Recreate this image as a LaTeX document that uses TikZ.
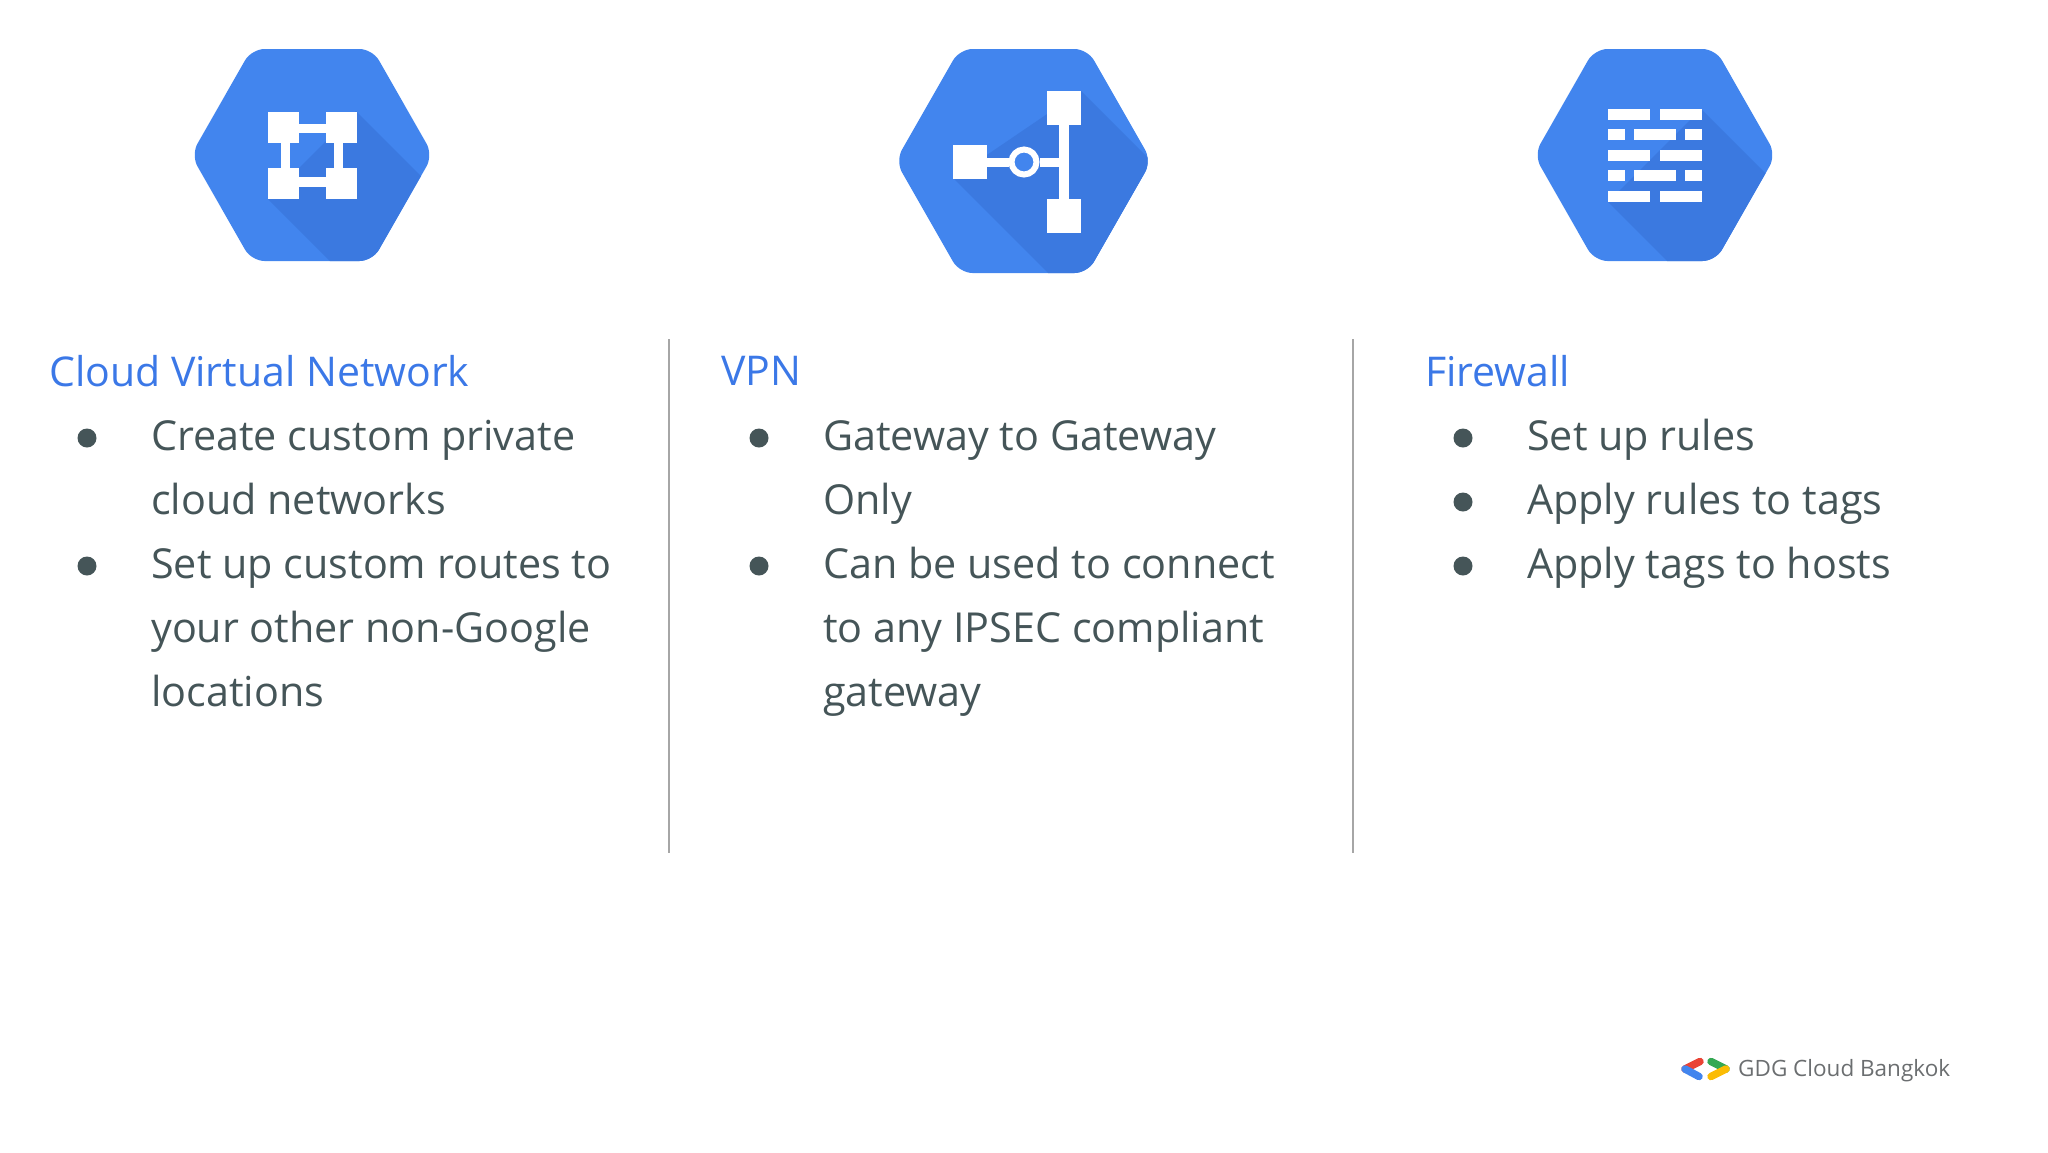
\documentclass[tikz,border=0pt]{standalone}
\usepackage{fontspec}
\setmainfont{Open Sans}
\usetikzlibrary{positioning,calc}
\definecolor{hexblue}{HTML}{4285EE}
\definecolor{hexshade}{HTML}{3B79E0}
\definecolor{titleblue}{HTML}{3B78E7}
\definecolor{bodygray}{HTML}{455558}
\definecolor{footgray}{HTML}{6B6E70}
\definecolor{rulegray}{HTML}{A6A6A6}
\definecolor{logored}{HTML}{EA4335}
\definecolor{logogreen}{HTML}{34A853}
\definecolor{logoyellow}{HTML}{FBBC04}

% hexagon badge: centre x, centre y, half width, half height, then shade corners
\newcommand{\hexbadge}[6]{
    \begin{scope}
        \clip[rounded corners=13pt] (#1-#3,#2) -- (#1-#3/2,#2-#4) -- (#1+#3/2,#2-#4)
            -- (#1+#3,#2) -- (#1+#3/2,#2+#4) -- (#1-#3/2,#2+#4) -- cycle;
        \fill[hexblue] (#1-#3-5,#2-#4-5) rectangle (#1+#3+5,#2+#4+5);
        \fill[hexshade] #5 -- ++(200,200) -- ($#6+(200,200)$) -- #6 -- cycle;
    \end{scope}
}

\begin{document}
\begin{tikzpicture}[
    x=1pt, y=-1pt,
    % Node styles
    title/.style={anchor=west, inner sep=0pt, text=titleblue,
                  font=\fontsize{41}{64}\selectfont},
    itemtext/.style={anchor=north west, inner sep=0pt, text=bodygray, align=left,
                     font=\fontsize{41.3}{64}\selectfont},
    dot/.style={circle, fill=bodygray, inner sep=0pt, minimum size=19pt},
    brick/.style={rectangle, fill=white, inner sep=0pt},
    footer/.style={anchor=west, inner sep=0pt, text=footgray,
                   font=\fontsize{22.5}{28}\selectfont},
    divider/.style={line width=2pt, rulegray},
    logoline/.style={line width=7.5pt, line cap=round}
]

\useasboundingbox (0,0) rectangle (2048,1152);

% 1. Cloud Virtual Network badge
\hexbadge{312}{155}{121}{106}{(356,111)}{(268,199)}
\node[brick, minimum size=31pt] (netTL) at (283.8,127.2) {};
\node[brick, minimum size=31pt] (netTR) at (341,127.2) {};
\node[brick, minimum size=31pt] (netBL) at (283.8,183.8) {};
\node[brick, minimum size=31pt] (netBR) at (341,183.8) {};
\draw[white, line width=9.5pt] ([yshift=-1.5pt]netTL.center) -- ([yshift=-1.5pt]netTR.center);
\draw[white, line width=9.5pt] ([xshift=-2.3pt]netTR.center) -- ([xshift=-2.3pt]netBR.center);
\draw[white, line width=9.5pt] ([yshift=1.6pt]netBR.center) -- ([yshift=1.6pt]netBL.center);
\draw[white, line width=9.5pt] ([xshift=1.9pt]netBL.center) -- ([xshift=1.9pt]netTL.center);

% 2. VPN badge
\hexbadge{1023.5}{161}{128}{112}{(1081,91)}{(953,178)}
\node[brick, minimum size=34pt] (vpnLeft) at (970,162) {};
\node[brick, minimum size=34pt] (vpnTop) at (1064,108) {};
\node[brick, minimum size=34pt] (vpnBottom) at (1064,216) {};
\node[circle, draw=white, line width=6pt, fill=hexblue, inner sep=0pt,
      minimum size=25pt] (vpnHub) at (1024,162) {};
\coordinate (vpnJoint) at (1064,162);
\draw[white, line width=9pt] (vpnLeft) -- (vpnHub);
\draw[white, line width=9pt] (vpnHub) -- (vpnJoint);
\draw[white, line width=10pt] (vpnTop) -- (vpnBottom);

% 3. Firewall badge
\hexbadge{1655}{155}{121}{106}{(1701,109)}{(1608,202)}
\foreach \row/\yy in {a/114.5, c/155.5, e/196.5} {
    \node[brick, minimum width=42pt, minimum height=11pt] (wall\row L) at (1629,\yy) {};
    \node[brick, minimum width=42pt, minimum height=11pt] (wall\row R) at (1680.5,\yy) {};
}
\foreach \row/\yy in {b/134.5, d/175.5} {
    \node[brick, minimum width=17pt, minimum height=11pt] (wall\row L) at (1616.5,\yy) {};
    \node[brick, minimum width=42pt, minimum height=11pt] (wall\row M) at (1655,\yy) {};
    \node[brick, minimum width=17pt, minimum height=11pt] (wall\row R) at (1693,\yy) {};
}

% 4. First column
\node[title] (cvnTitle) at (49,371) {Cloud Virtual Network};
\node[dot] (cvnDotA) at (87,438) {};
\node[itemtext] (cvnItemA) at (151,420) {Create custom private\\cloud networks};
\node[dot] (cvnDotB) at (87,566) {};
\node[itemtext] (cvnItemB) at (151,548) {Set up custom routes to\\your other non-Google\\locations};

% 5. Second column
\node[title] (vpnTitle) at (721,371) {VPN};
\node[dot] (vpnDotA) at (759,438) {};
\node[itemtext] (vpnItemA) at (823,420) {Gateway to Gateway\\Only};
\node[dot] (vpnDotB) at (759,566) {};
\node[itemtext] (vpnItemB) at (823,547) {Can be used to connect\\to any IPSEC compliant\\gateway};

% 6. Third column
\node[title] (fwTitle) at (1425,371) {Firewall};
\node[dot] (fwDotA) at (1463,438) {};
\node[itemtext] (fwItemA) at (1527,419) {Set up rules};
\node[dot] (fwDotB) at (1463,502) {};
\node[itemtext] (fwItemB) at (1527,483) {Apply rules to tags};
\node[dot] (fwDotC) at (1463,566) {};
\node[itemtext] (fwItemC) at (1527,547) {Apply tags to hosts};

% Column dividers
\coordinate (ruleAtop) at (669,339);
\coordinate (ruleAbot) at (669,853);
\coordinate (ruleBtop) at (1353,339);
\coordinate (ruleBbot) at (1353,853);
\draw[divider] (ruleAtop) -- (ruleAbot);
\draw[divider] (ruleBtop) -- (ruleBbot);

% Footer logo and name
\coordinate (logoL) at (1685,1069);
\coordinate (logoTL) at (1700,1061.5);
\coordinate (logoBL) at (1699,1076.5);
\coordinate (logoR) at (1726,1069);
\coordinate (logoTR) at (1711,1061.5);
\coordinate (logoBR) at (1711,1076.5);
\draw[logoline, logored] (logoL) -- (logoTL);
\draw[logoline, hexblue] (logoL) -- (logoBL);
\draw[logoline, logogreen] (logoTR) -- (logoR);
\draw[logoline, logoyellow] (logoR) -- (logoBR);
\node[footer, right=12pt of logoR, yshift=-2pt] (footName) {GDG Cloud Bangkok};

\end{tikzpicture}
\end{document}
